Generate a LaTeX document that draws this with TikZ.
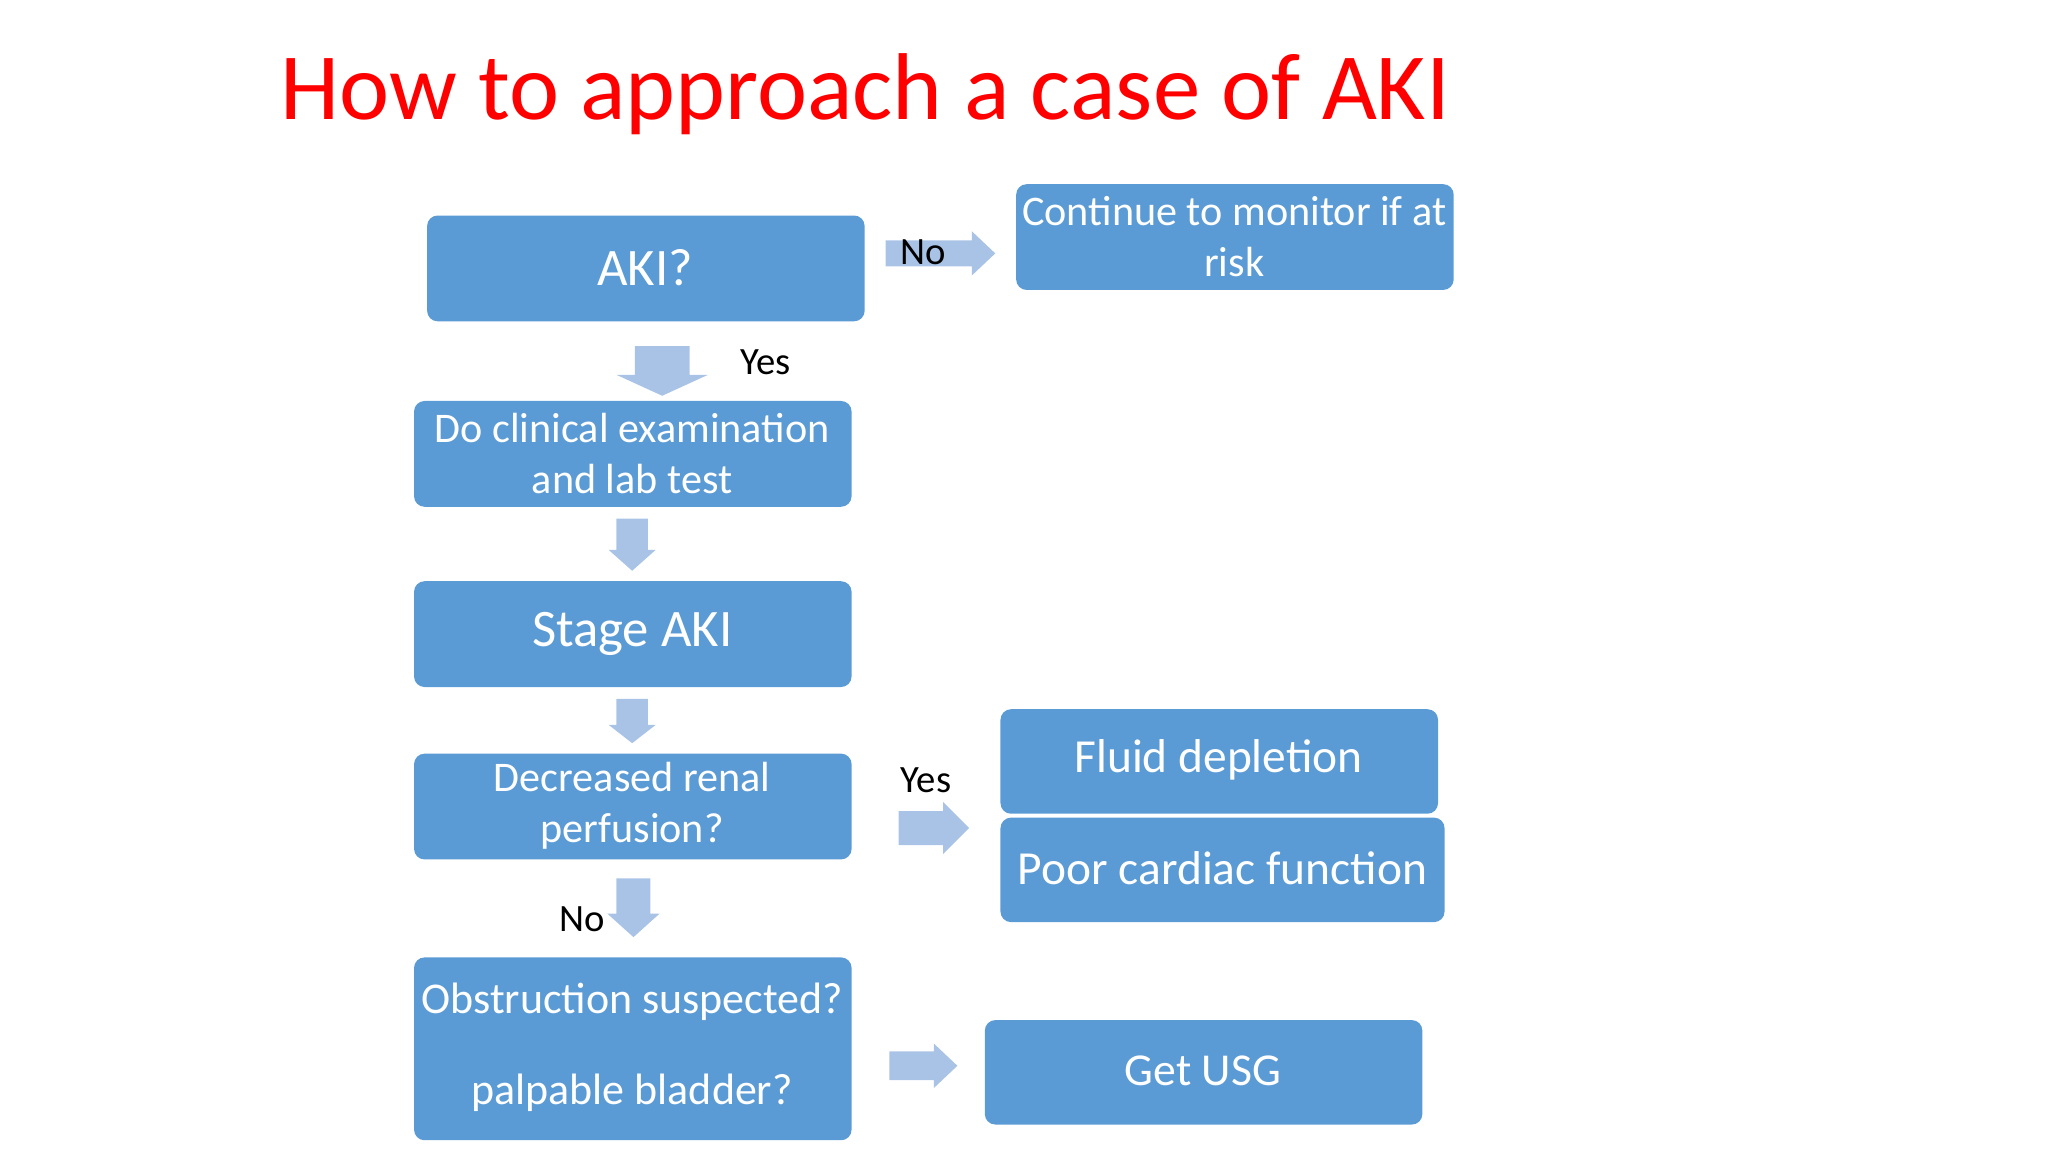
\documentclass[tikz,border=0pt]{standalone}
\usepackage{fontspec}
\setmainfont{Carlito}
\begin{document}
\begin{tikzpicture}[x=0.01306cm,y=-0.01306cm,
  box/.style={fill=boxblue,rounded corners=3pt,text=white,align=center,inner sep=0pt},
  lab/.style={font=\fontsize{11}{13}\selectfont,text=black}]
\definecolor{boxblue}{HTML}{5B9BD5}
\definecolor{arr}{HTML}{A9C3E6}
\useasboundingbox (0,0) rectangle (1568,882);
\newcommand\barrow[7]{% cx cy angle len shaft headw headlen
 \begin{scope}[shift={(#1,#2)},rotate=-#3]
 \fill[arr] (-#4/2,-#5/2) -- (#4/2-#7,-#5/2) -- (#4/2-#7,-#6/2) -- (#4/2,0) -- (#4/2-#7,#6/2) -- (#4/2-#7,#5/2) -- (-#4/2,#5/2) -- cycle;
 \end{scope}}
\node[text=red,font=\fontsize{27}{30}\selectfont,anchor=west] (t) at (205,72) {How to approach a case of AKI};
\fill[boxblue,rounded corners=3pt] (327,165) rectangle (662,246);
\node[text=white,font=\fontsize{15}{18}\selectfont] (aki) at (494,205) {AKI?};
\fill[boxblue,rounded corners=3pt] (778,141) rectangle (1113,222);
\node[text=white,align=center,font=\fontsize{12}{14.5}\selectfont] (mon) at (945,181) {Continue to monitor if at\\risk};
\fill[boxblue,rounded corners=3pt] (317,307) rectangle (652,388);
\node[text=white,align=center,font=\fontsize{12}{14.5}\selectfont] (clin) at (484,347) {Do clinical examination\\and lab test};
\fill[boxblue,rounded corners=3pt] (317,445) rectangle (652,526);
\node[text=white,font=\fontsize{15}{18}\selectfont] (stage) at (484,485) {Stage AKI};
\fill[boxblue,rounded corners=3pt] (317,577) rectangle (652,658);
\node[text=white,align=center,font=\fontsize{12}{14.5}\selectfont] (dec) at (484,617) {Decreased renal\\perfusion?};
\fill[boxblue,rounded corners=3pt] (766,543) rectangle (1101,623);
\node[text=white,font=\fontsize{13.5}{16}\selectfont] (fluid) at (933,582) {Fluid depletion};
\fill[boxblue,rounded corners=3pt] (766,626) rectangle (1106,706);
\node[text=white,font=\fontsize{13.5}{16}\selectfont] (poor) at (936,665) {Poor cardiac function};
\fill[boxblue,rounded corners=3pt] (317,733) rectangle (652,873);
\node[text=white,align=center,font=\fontsize{12.5}{26}\selectfont] (obs) at (484,802) {Obstruction suspected?\\palpable bladder?};
\fill[boxblue,rounded corners=3pt] (754,781) rectangle (1089,861);
\node[text=white,font=\fontsize{13}{16}\selectfont] (usg) at (921,820) {Get USG};
\barrow{720}{194}{0}{84}{20}{34}{18}
\barrow{507}{284}{90}{38}{42}{70}{16}
\barrow{484}{417}{90}{40}{24}{36}{16}
\barrow{484}{552}{90}{34}{24}{36}{14}
\barrow{715}{634}{0}{54}{26}{40}{20}
\barrow{485}{695}{90}{45}{26}{40}{18}
\barrow{707}{816}{0}{52}{22}{34}{18}
\node[lab] (no1) at (707,193) {No};
\node[lab] (yes1) at (586,277) {Yes};
\node[lab] (yes2) at (709,597) {Yes};
\node[lab] (no2) at (446,704) {No};
\end{tikzpicture}
\end{document}
